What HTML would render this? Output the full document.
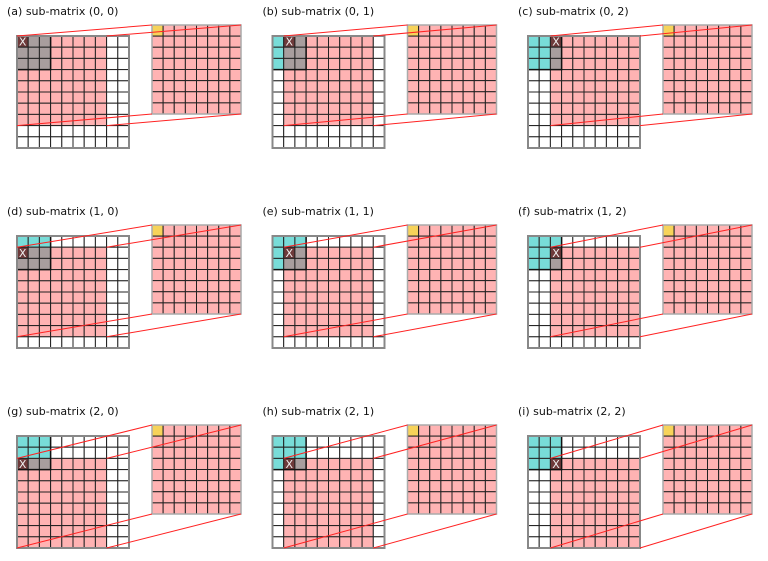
<!DOCTYPE html>
<html><head><meta charset="utf-8"><style>
html,body{margin:0;padding:0;background:#fff;}
svg{display:block;font-family:"DejaVu Sans","Liberation Sans",sans-serif;}
</style></head><body>
<svg id="fig" width="768" height="561" viewBox="0 0 768 561" xmlns="http://www.w3.org/2000/svg"></svg>
<script>
const panelLetters = ["a","b","c","d","e","f","g","h","i"];
const subRows = [0,0,0,1,1,1,2,2,2];
const subCols = [0,1,2,0,1,2,0,1,2];
const gridSize = 10, subSize = 8, kernel = 3;

const NS = "http://www.w3.org/2000/svg";
const svg = document.getElementById("fig");
function mk(tag, attrs, parent){
  const e = document.createElementNS(NS, tag);
  for (const k in attrs) e.setAttribute(k, attrs[k]);
  (parent||svg).appendChild(e);
  return e;
}
const LC = 11.2, RC = 89/8;
for (let p = 0; p < 9; p++) {
  const ox = (p % 3) * 255.5, oy = Math.floor(p / 3) * 200;
  const si = subRows[p], sj = subCols[p];
  const g = mk("g", {});
  
  
  const t = mk("text", {x: ox + 7, y: oy + 15, "font-size": 11, fill: "#111"}, g);
  t.textContent = "(" + panelLetters[p] + ") sub-matrix (" + si + ", " + sj + ")";
  
  
  const lx = ox + 17, ly = oy + 36;
  const lg = mk("g", {}, g);
  
  
  for (let r = 0; r < gridSize; r++) for (let c = 0; c < gridSize; c++) {
    const inSub = r >= si && r < si + subSize && c >= sj && c < sj + subSize;
    const inK = r < kernel && c < kernel;
    let fill = "#fff";
    if (inSub) fill = "#ffb3b3";
    if (inK && !inSub) fill = "#78dcd8";
    if (inK && inSub) fill = "#a89e9e";
    if (r === si && c === sj) fill = "#6e3a3a";
    const rc = mk("rect", {x: lx + c*LC, y: ly + r*LC, width: LC, height: LC, fill: fill, stroke: "#222", "stroke-width": 1}, lg);
    
    
    if (r === si && c === sj) {
      const x = mk("text", {x: lx + c*LC + LC/2, y: ly + r*LC + LC/2 + 4, "font-size": 11, fill: "#eee", "text-anchor": "middle"}, lg);
      x.textContent = "X";
      
      
    }
  }
  mk("rect", {x: lx, y: ly, width: LC*kernel, height: LC*kernel, fill: "none", stroke: "#111", "stroke-width": 1.5}, lg);
  mk("rect", {x: lx, y: ly, width: LC*gridSize, height: LC*gridSize, fill: "none", stroke: "#888", "stroke-width": 2}, lg);
  const rx = ox + 152, ry = oy + 25;
  const rg = mk("g", {}, g);
  
  
  for (let r = 0; r < subSize; r++) for (let c = 0; c < subSize; c++) {
    const rc = mk("rect", {x: rx + c*RC, y: ry + r*RC, width: RC, height: RC, fill: (r===0&&c===0) ? "#f7d35a" : "#ffb3b3", stroke: "#222", "stroke-width": 1}, rg);
    
    
  }
  mk("rect", {x: rx, y: ry, width: RC*subSize, height: RC*subSize, fill: "none", stroke: "#aaa", "stroke-width": 1.5}, rg);
  const px0 = lx + sj*LC, py0 = ly + si*LC, px1 = px0 + subSize*LC, py1 = py0 + subSize*LC;
  const rx1 = rx + subSize*RC, ry1 = ry + subSize*RC;
  const segs = [[px0,py0,rx,ry],[px1,py0,rx1,ry],[px0,py1,rx,ry1],[px1,py1,rx1,ry1]];
  segs.forEach(s => {
    const l = mk("line", {x1: s[0], y1: s[1], x2: s[2], y2: s[3], stroke: "#f22", "stroke-width": 1}, g);
    
    
  });
}
</script>
</body></html>
